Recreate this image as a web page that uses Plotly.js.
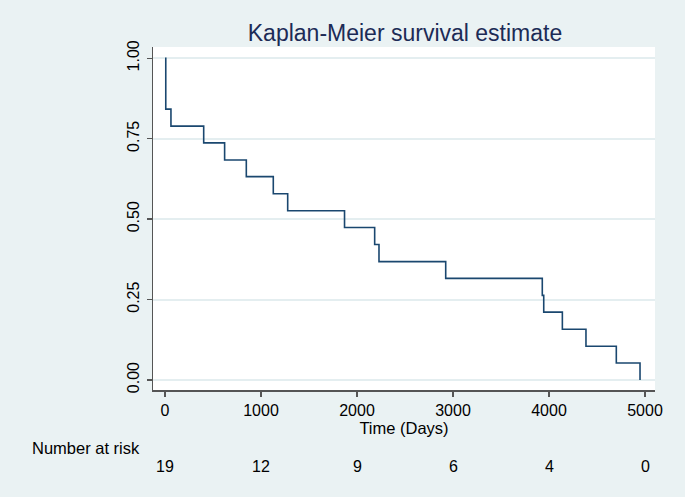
<!DOCTYPE html>
<html>
<head>
<meta charset="utf-8">
<script src="https://cdn.plot.ly/plotly-3.0.1.min.js"></script>
<style>
  html, body { margin: 0; padding: 0; background: #eaf2f3; }
  #chart { width: 685px; height: 497px; }
</style>
</head>
<body>
<div id="chart"></div>
<script>
// Kaplan-Meier step points (time in days, survival probability)
const times = [0, 8, 62, 403, 621, 847, 1128, 1278, 1870, 2184, 2229, 2924, 3930, 3945, 4139, 4385, 4701, 4948];
const survival = [1.000, 0.842, 0.789, 0.737, 0.684, 0.632, 0.579, 0.526, 0.474, 0.421, 0.368, 0.316, 0.263, 0.211, 0.158, 0.105, 0.053, 0.000];

// Risk table
const riskTimes = [0, 1000, 2000, 3000, 4000, 5000];
const atRisk = [19, 12, 9, 6, 4, 0];

const xTicks = [0, 1000, 2000, 3000, 4000, 5000];
const yTicks = [0, 0.25, 0.5, 0.75, 1];
const yTickLabels = ["0.00", "0.25", "0.50", "0.75", "1.00"];

const FONT = "Liberation Sans, Arial, Helvetica, sans-serif";

const trace = {
  x: times,
  y: survival,
  type: "scatter",
  mode: "lines",
  line: { shape: "hv", color: "#1a476f", width: 1.6 },
  hoverinfo: "x+y",
  showlegend: false
};

const annotations = riskTimes.map((t, i) => ({
  x: t, xref: "x",
  y: -0.224, yref: "paper",
  text: String(atRisk[i]),
  showarrow: false,
  xanchor: "center", yanchor: "middle",
  font: { family: FONT, size: 16, color: "#000" }
}));
annotations.push({
  x: -0.246, xref: "paper",
  y: -0.169, yref: "paper",
  text: "Number at risk",
  showarrow: false,
  xanchor: "left", yanchor: "middle",
  font: { family: FONT, size: 16.5, color: "#000" }
});

const layout = {
  width: 685, height: 497,
  paper_bgcolor: "#eaf2f3",
  plot_bgcolor: "#ffffff",
  margin: { l: 153, r: 30, t: 47, b: 107 },
  title: {
    text: "Kaplan-Meier survival estimate",
    font: { family: FONT, size: 23, color: "#1c2b56" },
    x: 405 / 685, xanchor: "center",
    y: 1 - 33 / 497, yanchor: "middle"
  },
  xaxis: {
    range: [-125, 5104],
    tickvals: xTicks,
    ticktext: xTicks.map(String),
    showgrid: false,
    zeroline: false,
    showline: true, linecolor: "#555555", linewidth: 1.5,
    ticks: "outside", ticklen: 5, tickwidth: 1.5, tickcolor: "#555555",
    tickfont: { family: FONT, size: 16, color: "#000" },
    title: { text: "Time (Days)", font: { family: FONT, size: 16.5, color: "#000" }, standoff: 2 },
    fixedrange: true
  },
  yaxis: {
    range: [-0.031, 1.035],
    tickvals: yTicks,
    ticktext: yTickLabels,
    tickangle: -90,
    showgrid: true, gridcolor: "#e4eef0", gridwidth: 2,
    zeroline: false,
    showline: true, linecolor: "#555555", linewidth: 1.5,
    ticks: "outside", ticklen: 5, tickwidth: 1.5, tickcolor: "#555555",
    tickfont: { family: FONT, size: 16, color: "#000" },
    ticklabelstandoff: 1,
    fixedrange: true
  },
  annotations: annotations
};

Plotly.newPlot("chart", [trace], layout, { displayModeBar: false, staticPlot: true });
</script>
</body>
</html>
